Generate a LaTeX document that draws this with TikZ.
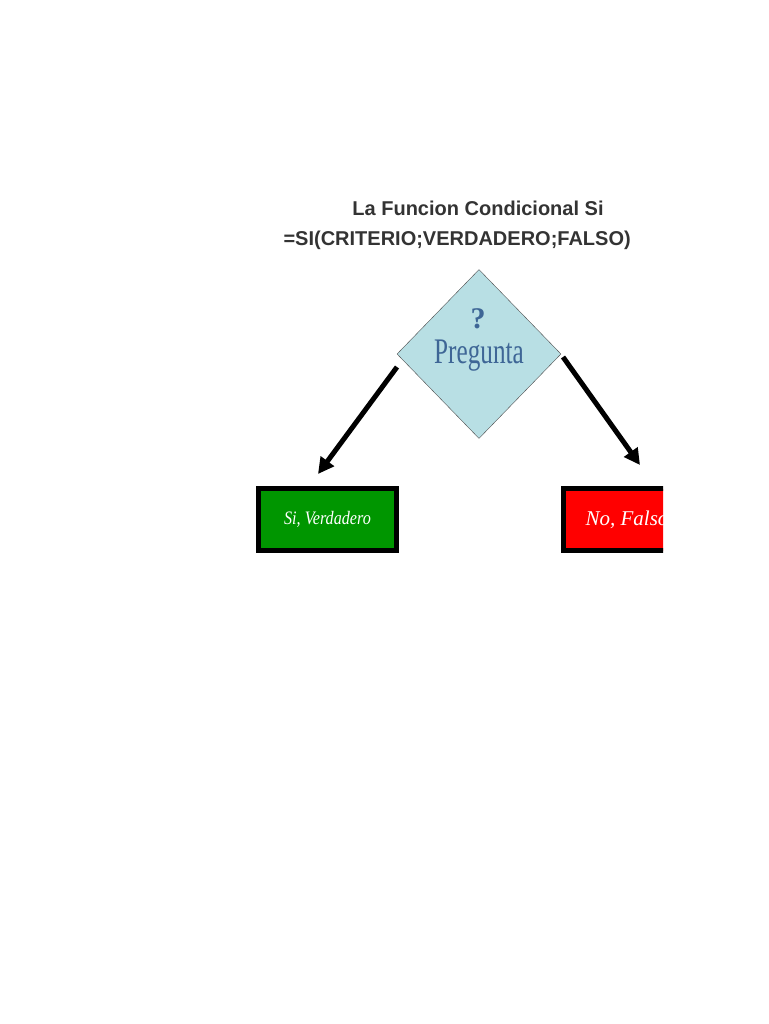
\documentclass[tikz,border=0pt]{standalone}
\usepackage{fontspec}
\setmainfont{Liberation Serif}
\setsansfont{Liberation Sans}
\usetikzlibrary{shapes.geometric,arrows.meta}
\definecolor{dia}{RGB}{184,223,228}
\definecolor{qblue}{RGB}{62,102,150}
\definecolor{tgrey}{RGB}{51,51,51}
\definecolor{gbox}{RGB}{0,150,0}
\definecolor{rbox}{RGB}{255,0,0}
\tikzset{
  ttl/.style={font=\sffamily\bfseries\fontsize{20}{22}\selectfont, text=tgrey},
  answer/.style={draw=black, line width=5pt, minimum width=138pt, minimum height=62pt, text=white, font=\itshape\fontsize{21}{24}\selectfont},
  conn/.style={line width=5pt, -{Triangle[length=16pt,width=16pt]}}
}
\begin{document}
\begin{tikzpicture}[x=1pt,y=-1pt]
\useasboundingbox (0,0) rectangle (768,1024);
\begin{scope}
\clip (0,0) rectangle (663,1024);
\node[ttl] (t1) at (478,208) {La Funcion Condicional Si};
\node[ttl, anchor=west] (t2) at (280,240) {=SI(CRITERIO;VERDADERO;FALSO)};
\node[diamond, draw=black!70, fill=dia, minimum width=164pt, minimum height=169pt, inner sep=0pt] (q) at (479,354) {};
\node[text=qblue, font=\fontsize{30}{30}\selectfont\bfseries] (qm) at (478,319) {?};
\node[text=qblue, xscale=0.7, font=\fontsize{36}{36}\selectfont] (pr) at (479,356) {Pregunta};
\node[answer, fill=gbox] (si) at (327.5,519.5) {\fontsize{19}{22}\selectfont\scalebox{0.85}[1]{Si, Verdadero}};
\node[answer, fill=rbox, anchor=west] (no) at (560.5,519.5) {\hspace*{-10pt}No, Falso};
\coordinate (la) at (397,367);
\coordinate (ra) at (563,357);
\draw[conn] (la) -- (318,474) coordinate (lb);
\draw[conn] (ra) -- (640,465) coordinate (rb);
\end{scope}
\end{tikzpicture}
\end{document}
